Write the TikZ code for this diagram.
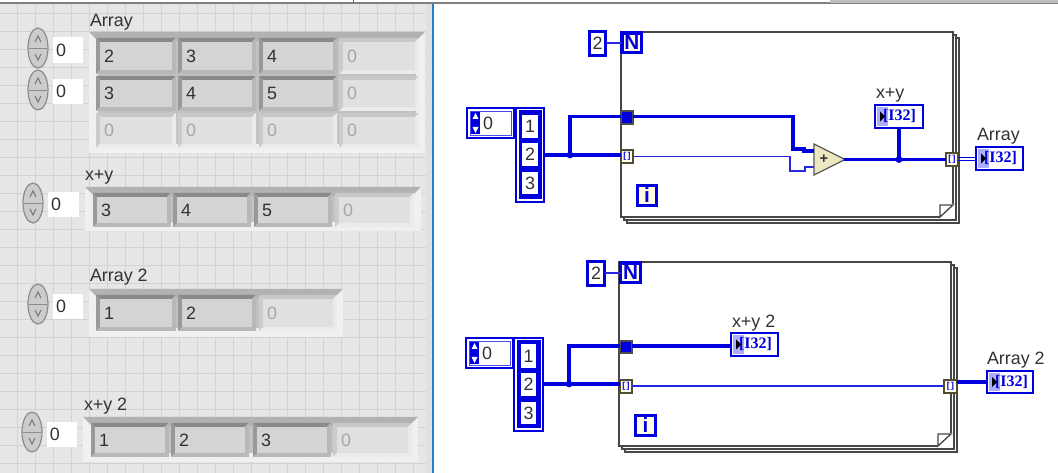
\documentclass[tikz,border=0pt]{standalone}
\usepackage{fontspec}
\setmainfont{Liberation Sans}
\newfontfamily\serifb{Liberation Serif}
\usetikzlibrary{calc}
\definecolor{lvblue}{RGB}{0,0,222}
\definecolor{txt}{RGB}{50,50,50}
\definecolor{panelbg}{RGB}{230,230,230}
\definecolor{gridc}{RGB}{210,210,210}
\definecolor{paleY}{RGB}{255,251,228}
\tikzset{
  x=0.75pt,y=-0.75pt,
  base/.style={inner sep=0pt,outer sep=0pt,font=\fontsize{13.4}{15}\selectfont,text=txt},
  lbl/.style={base,anchor=west,yshift=-1.5pt},
  cellAface/.style={base,fill=black!17},
  cellBface/.style={base,fill=black!12,text=black!35},
  cellAtop/.style={fill=black!46},cellAleft/.style={fill=black!40},cellAright/.style={fill=black!28},cellAbot/.style={fill=black!28},
  cellBtop/.style={fill=black!22},cellBleft/.style={fill=black!20},cellBright/.style={fill=black!8},cellBbot/.style={fill=black!8},
  idxbox/.style={base,fill=white,align=left},
  spin/.style={fill=black!20,draw=black!45,line width=0.9pt},
  constb/.style={base,draw=lvblue,line width=2.4pt,fill=white},
  termb/.style={base,draw=lvblue,line width=2.4pt,fill=paleY,text=lvblue},
  cellc/.style={base,fill=white},
  ctrlout/.style={base,draw=lvblue,line width=0.8pt,fill=white},
  indic/.style={base,draw=lvblue,line width=1.1pt,text=lvblue,font=\serifb\bfseries\fontsize{12}{13}\selectfont,align=left},
  tunF/.style={base,fill=lvblue,draw=black!70,line width=0.8pt},
  tunI/.style={base,fill=paleY!40!white,draw=black!55!olive,line width=1.1pt,text=lvblue,font=\bfseries\fontsize{6.5}{6.5}\selectfont},
  wthick/.style={draw=lvblue,line width=2.3pt},
  wthin/.style={draw=lvblue!85!white,line width=1.2pt},
  wdouble/.style={draw=lvblue,line width=0.7pt},
  frame/.style={draw=black!72,line width=1.2pt,fill=white},
  jdot/.style={fill=lvblue},
  addsym/.style={fill=paleY!85!olive,draw=black!65,line width=0.9pt}
}
\newcommand{\bx}[7]{\node[#6,minimum width={(#4-#2)*0.75pt},minimum height={(#5-#3)*0.75pt}] (#1) at ({(#2+#4)/2},{(#3+#5)/2}) {#7};}
\newcommand{\idx}[5]{\node[idxbox,minimum width={(#4-#2)*0.75pt},minimum height={(#5-#3)*0.75pt},text width={(#4-#2-6)*0.75pt},inner xsep=2.25pt] (#1) at ({(#2+#4)/2},{(#3+#5)/2}) {0};}
\newcommand{\celbase}[7]{%
 \fill[#7top] ({#2-4},{#3-4})--({#4+4},{#3-4})--(#4,#3)--(#2,#3)--cycle;
 \fill[#7bot] ({#2-4},{#5+4})--({#4+4},{#5+4})--(#4,#5)--(#2,#5)--cycle;
 \fill[#7left] ({#2-4},{#3-4})--(#2,#3)--(#2,#5)--({#2-4},{#5+4})--cycle;
 \fill[#7right] ({#4+4},{#3-4})--(#4,#3)--(#4,#5)--({#4+4},{#5+4})--cycle;
 \node[#7face,align=left,minimum height={(#5-#3)*0.75pt},minimum width={(#4-#2)*0.75pt},text width={(#4-#2-8)*0.75pt},inner xsep=3pt] (#1) at ({(#2+#4)/2},{(#3+#5)/2}) {#6};}
\newcommand{\cluster}[4]{%
 \fill[black!6] (#1,#2) rectangle (#3,#4);
 \fill[black!30] (#1,#2)--(#3,#2)--({#3-9},{#2+9})--({#1+9},{#2+9})--cycle;
 \fill[black!24] ({#1+9},{#2+9}) rectangle ({#3-9},{#4-9});}
\newcommand{\spinner}[2]{%
 \path[spin] (#1,#2) ellipse [x radius=10,y radius=20];
 \draw[black!45,line width=0.6pt] ({#1-9},#2)--({#1+9},#2);
 \draw[black!55,line width=0.7pt] ({#1-3},{#2-6})--(#1,{#2-12})--({#1+3},{#2-6});
 \draw[black!55,line width=0.7pt] ({#1-3},{#2+6})--(#1,{#2+12})--({#1+3},{#2+6});}
\newcommand{\ind}[5]{%
 \fill[white] (#2,#3) rectangle (#4,#5);
 \fill[blue!32] ({#2+2},{#3+2}) rectangle ({#2+13},{#5-2});
 \node[indic,minimum width={(#4-#2)*0.75pt},minimum height={(#5-#3)*0.75pt},text width={(#4-#2-16)*0.75pt},inner xsep=6pt] (#1) at ({(#2+#4)/2},{(#3+#5)/2}) {[I32]};
 \fill[black] ({#2+5},{(#3+#5)/2-5})--({#2+10},{(#3+#5)/2})--({#2+5},{(#3+#5)/2+5})--cycle;}
\newcommand{\numconst}[5]{%
 \bx{#1}{#2}{#3}{#4}{#5}{ctrlout}{}
 \draw[lvblue!70!white,line width=0.7pt] ({#2+3},{#3+3}) rectangle ({#4-3},{#5-3});
 \fill[lvblue] ({#2+4},{#3+4}) rectangle ({#2+13},{#5-4});
 \fill[white] ({#2+8.5},{#3+5})--({#2+11.5},{#3+11})--({#2+5.5},{#3+11})--cycle;
 \fill[white] ({#2+8.5},{#5-5})--({#2+11.5},{#5-11})--({#2+5.5},{#5-11})--cycle;
 \node[base,anchor=west] at ({#2+16},{(#3+#5)/2}) {0};}
\newcommand{\loopframe}[4]{%
 \path[frame] ({#1+6},{#2+6}) rectangle ({#3+6},{#4+6});
 \path[frame] ({#1+3},{#2+3}) rectangle ({#3+3},{#4+3});
 \path[frame] (#1,#2) rectangle (#3,#4);
 \fill[white] ({#3-13},{#4-13}) -- ({#3+0.8},{#4-13}) -- ({#3+0.8},{#4+0.8}) -- ({#3-13},{#4+0.8}) -- cycle;
 \draw[black!72,line width=1pt] ({#3-13},#4)--({#3-13},{#4-12})--(#3,{#4-12})--cycle;}
\begin{document}
\begin{tikzpicture}
\useasboundingbox (0,0) rectangle (1058,473);
\fill[white] (0,0) rectangle (1058,473);
% panel
\fill[panelbg] (0,4) rectangle (432,473);
\foreach \k in {0,...,23} {\draw[gridc,line width=0.75pt] ({17.5+18*\k},4)--({17.5+18*\k},473);}
\foreach \k in {0,...,25} {\draw[gridc,line width=0.75pt] (0,{13.5+18*\k})--(432,{13.5+18*\k});}
\fill[black!12] (426,4) rectangle (432,473);
\draw[black!50,line width=0.9pt] (0,3)--(1058,3);
\fill[black!25] (830,0) rectangle (1058,3);
\draw[black!60,line width=0.7pt] (353,0)--(353,3);
\draw[blue!45!cyan!75!black!85,line width=0.9pt] (433,4)--(433,473);
% Array
\node[lbl] (lArr) at (90,20) {Array};
\cluster{89}{32}{425}{153}
\celbase{a11}{100}{42}{172}{70}{2}{cellA}
\celbase{a12}{182}{42}{252}{70}{3}{cellA}
\celbase{a13}{263}{42}{333}{70}{4}{cellA}
\celbase{a14}{343}{42}{415}{70}{0}{cellB}
\celbase{a21}{100}{80}{172}{107}{3}{cellA}
\celbase{a22}{182}{80}{252}{107}{4}{cellA}
\celbase{a23}{263}{80}{333}{107}{5}{cellA}
\celbase{a24}{343}{80}{415}{107}{0}{cellB}
\celbase{a31}{100}{117}{172}{144}{0}{cellB}
\celbase{a32}{182}{117}{252}{144}{0}{cellB}
\celbase{a33}{263}{117}{333}{144}{0}{cellB}
\celbase{a34}{343}{117}{415}{144}{0}{cellB}
\spinner{38}{48}
\idx{ia1}{53}{37}{83}{63}
\spinner{38}{90}
\idx{ia2}{53}{79}{83}{104}
% x+y
\node[lbl] (lXY) at (85,175) {x+y};
\cluster{85}{187}{421}{231}
\celbase{b1}{97}{197}{167}{223}{3}{cellA}
\celbase{b2}{177}{197}{247}{223}{4}{cellA}
\celbase{b3}{258}{197}{328}{223}{5}{cellA}
\celbase{b4}{339}{197}{410}{223}{0}{cellB}
\spinner{33}{203}
\idx{ib}{48}{192}{79}{217}
% Array 2
\node[lbl] (lArr2) at (90,275) {Array 2};
\cluster{89}{289}{343}{337}
\celbase{c1}{100}{299}{172}{327}{1}{cellA}
\celbase{c2}{182}{299}{252}{327}{2}{cellA}
\celbase{c3}{263}{299}{333}{327}{0}{cellB}
\spinner{38}{304}
\idx{ic}{53}{294}{83}{319}
% x+y 2
\node[lbl] (lXY2) at (84,404) {x+y 2};
\cluster{83}{417}{418}{462}
\celbase{d1}{95}{427}{165}{453}{1}{cellA}
\celbase{d2}{175}{427}{245}{453}{2}{cellA}
\celbase{d3}{257}{427}{327}{453}{3}{cellA}
\celbase{d4}{337}{427}{408}{453}{0}{cellB}
\spinner{32}{432}
\idx{id}{47}{422}{77}{447}
% ---- loop 1
\loopframe{621}{32}{953}{217}
\numconst{nA}{467}{108}{514}{138}
\bx{clA}{516}{108}{544}{202}{ctrlout}{}
\fill[lvblue] (518.5,110.5) rectangle (541.5,199.5);
\bx{cA1}{522}{115}{538}{138}{cellc}{1}
\bx{cA2}{522}{143}{538}{166}{cellc}{2}
\bx{cA3}{522}{172}{538}{194}{cellc}{3}
\bx{kA}{589.5}{31.5}{605.5}{55.5}{constb}{2}
\bx{NA}{622}{33}{641.5}{52.5}{termb}{\fontsize{15.5}{15}\bfseries N}
\bx{iA}{637.5}{185.5}{656.5}{205.5}{termb}{\fontsize{15.5}{15}\bfseries i}
\bx{tA}{621}{111}{633}{124}{tunF}{}
\bx{uA}{621}{150}{633}{163}{tunI}{[\,]}
\bx{vA}{946}{153}{958}{166}{tunI}{[\,]}
\coordinate (jA) at (570,155);
\coordinate (aA) at (570,116.5);
\coordinate (b1A) at (793,116.5);
\coordinate (b2A) at (793,149);
\coordinate (b3A) at (804,149);
\coordinate (b4A) at (804,151);
\coordinate (pA) at (814,151);
\coordinate (t1A) at (790,156.5);
\coordinate (t2A) at (790,171);
\coordinate (t3A) at (805,171);
\coordinate (t4A) at (805,167);
\coordinate (qA) at (814,167);
\coordinate (oA) at (844,159.5);
\coordinate (kA2) at (899,159.5);
\path[addsym] (814,144)--(845,159.5)--(814,175)--cycle;
\node[base,font=\bfseries\fontsize{11}{11}\selectfont] (add) at (824,159.5) {+};
\ind{xyA}{875}{105}{923}{128}
\ind{arrA}{976}{147}{1023}{170}
\node[lbl] (lxyA) at (876,93) {x+y};
\node[lbl] (larrA) at (977,134) {Array};
\draw[wthick] (clA.east |- jA)--(jA)--(aA)--(tA.west |- aA);
\draw[wthick] (jA)--(uA.west |- jA);
\draw[wthin] (kA.east |- NA)--(NA.west);
\draw[wthick] (tA.east |- b1A)--(b1A)--(b2A)--(b3A)--(b4A)--(pA);
\draw[wthin] (uA.east |- t1A)--(t1A)--(t2A)--(t3A)--(t4A)--(qA);
\draw[wthick] (oA)--(vA.west |- oA);
\draw[wthick] (kA2)--(xyA.south -| kA2);
\fill[jdot] (jA) circle (3.4);
\fill[jdot] (kA2) circle (3.4);
\draw[wdouble] (vA.east |- 0,157.8)--(arrA.west |- 0,157.8);
\draw[wdouble] (vA.east |- 0,160.8)--(arrA.west |- 0,160.8);
% ---- loop 2
\loopframe{619}{262}{951}{446}
\numconst{nB}{466}{338}{513}{368}
\bx{clB}{514}{338}{543}{431}{ctrlout}{}
\fill[lvblue] (516.5,340.5) rectangle (540.5,428.5);
\bx{cB1}{521}{344}{536}{368}{cellc}{1}
\bx{cB2}{521}{373}{536}{396}{cellc}{2}
\bx{cB3}{521}{402}{536}{424}{cellc}{3}
\bx{kB}{587.5}{261.5}{604.5}{285.5}{constb}{2}
\bx{NB}{620.5}{263}{640.5}{282.5}{termb}{\fontsize{15.5}{15}\bfseries N}
\bx{iB}{635.5}{415.5}{655.5}{435.5}{termb}{\fontsize{15.5}{15}\bfseries i}
\bx{tB}{620}{341}{632}{353}{tunF}{}
\bx{uB}{620}{380}{632}{393}{tunI}{[\,]}
\bx{vB}{944}{380}{957}{393}{tunI}{[\,]}
\coordinate (jB) at (569,384);
\coordinate (aB) at (569,346);
\coordinate (rB) at (700,386);
\ind{xyB}{731}{333}{778}{356}
\ind{arrB}{987}{371}{1033}{393}
\node[lbl] (lxyB) at (732,321) {x+y 2};
\node[lbl] (larrB) at (987,358) {Array 2};
\draw[wthick] (clB.east |- jB)--(jB)--(aB)--(tB.west |- aB);
\draw[wthick] (jB)--(uB.west |- jB);
\draw[wthin] (kB.east |- NB)--(NB.west);
\draw[wthick] (tB.east |- aB)--(xyB.west |- aB);
\draw[wthin] (uB.east |- rB)--(rB)--(vB.west |- rB);
\draw[wthick] (vB.east |- arrB)--(arrB.west);
\fill[jdot] (jB) circle (3.4);
\end{tikzpicture}
\end{document}
